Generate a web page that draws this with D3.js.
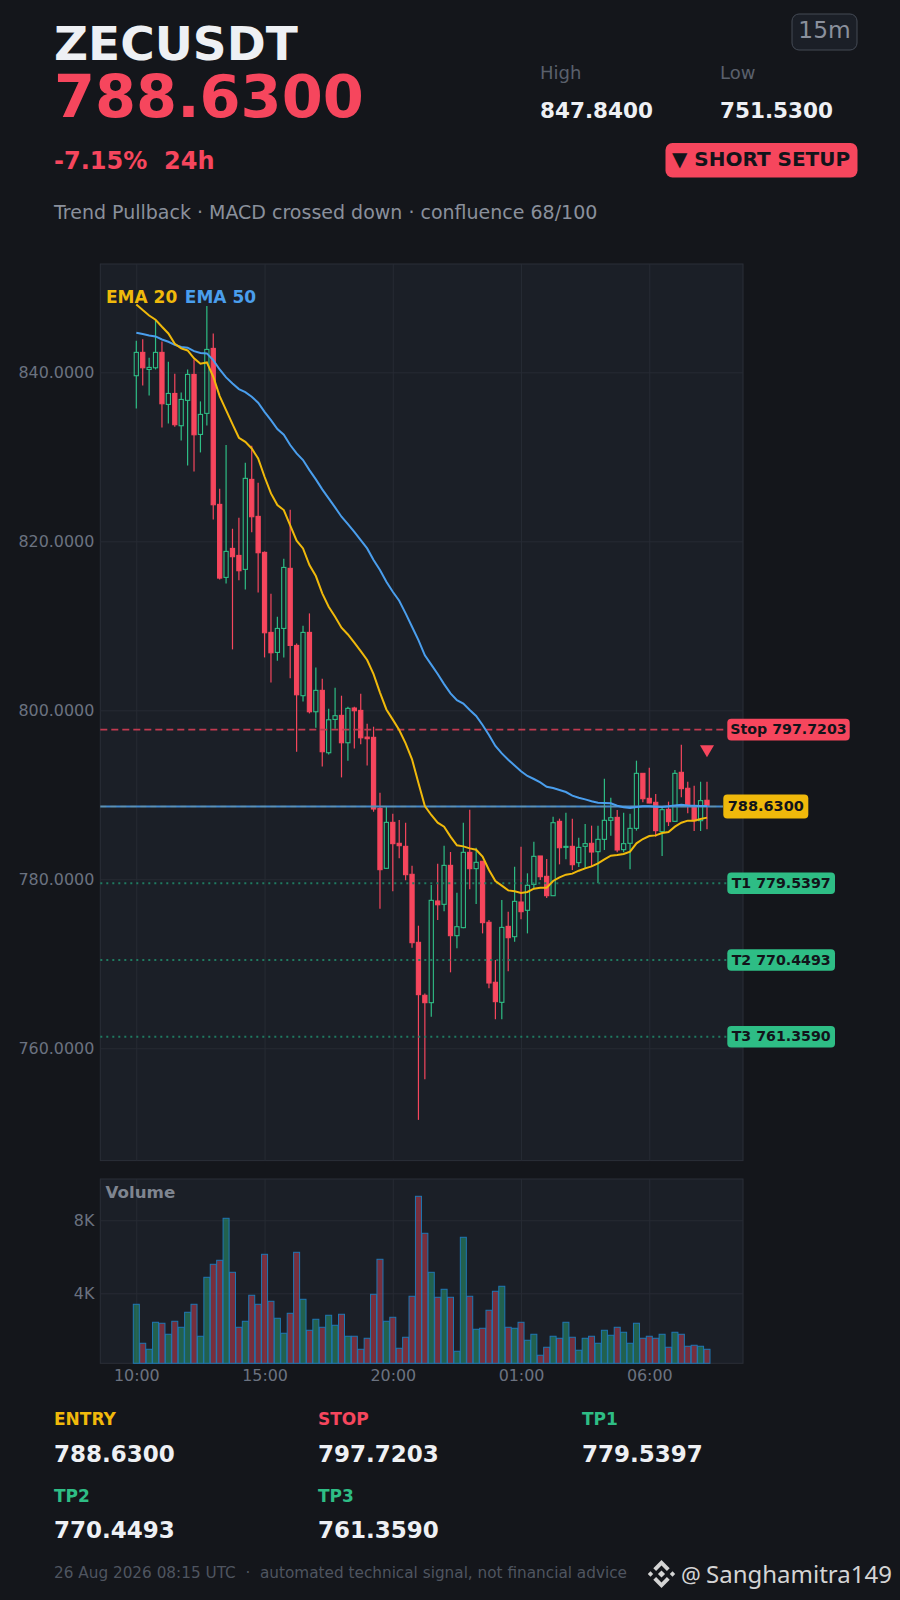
<!DOCTYPE html>
<html>
<head>
<meta charset="utf-8">
<title>ZECUSDT</title>
<script src="https://cdn.jsdelivr.net/npm/d3@7"></script>
<style>
  html, body { margin: 0; padding: 0; background: #14161b; }
  svg { display: block; font-family: "DejaVu Sans", sans-serif; }
  text { white-space: pre; }
  .axis text { fill: #6b7280; font-size: 15.9px; font-family: "DejaVu Sans", sans-serif; }
  .axis path, .axis line { display: none; }
  .grid path { display: none; }
  .grid line { stroke: #272b34; stroke-width: 1; }
</style>
</head>
<body>
<svg id="chart" width="900" height="1600"></svg>
<script>
// 15m candles, 10:00 onward
const open = [
  839.60, 842.36, 840.34, 840.54, 842.36, 836.20, 837.50, 833.68, 836.68, 839.75,
  832.65, 835.14, 842.83, 824.37, 815.73, 819.16, 818.33, 816.68, 827.33, 822.95,
  818.69, 809.22, 806.85, 809.69, 816.80, 807.68, 801.73, 809.22, 799.83, 802.36,
  794.98, 798.92, 799.40, 796.16, 800.27, 799.99, 796.83, 796.80, 788.40, 781.30,
  786.74, 784.26, 783.90, 780.59, 772.54, 766.27, 765.40, 777.43, 777.04, 781.65,
  773.33, 774.28, 783.19, 781.26, 782.13, 774.91, 767.81, 765.44, 774.43, 773.21,
  777.31, 776.33, 779.40, 782.76, 780.35, 778.06, 786.86, 783.78, 783.90, 781.97,
  783.90, 784.26, 783.27, 784.73, 786.98, 787.33, 783.51, 784.26, 786.03, 792.54,
  789.58, 789.11, 785.64, 788.28, 786.86, 792.66, 790.77, 788.68, 786.94, 789.35
];
const close = [
  842.36, 840.54, 840.58, 842.36, 836.28, 837.50, 833.80, 836.79, 839.75, 832.61,
  835.02, 842.71, 824.33, 815.65, 818.81, 818.18, 816.52, 827.45, 822.91, 818.65,
  809.18, 806.81, 809.69, 816.91, 807.68, 801.84, 809.22, 799.83, 802.36, 795.10,
  798.88, 799.36, 796.16, 800.23, 799.95, 796.75, 796.64, 788.32, 781.14, 786.74,
  784.22, 783.98, 780.55, 772.50, 766.35, 765.40, 777.51, 776.99, 781.65, 773.33,
  774.39, 783.19, 781.26, 782.01, 774.87, 767.73, 765.52, 774.31, 773.09, 777.39,
  776.17, 779.29, 782.72, 780.31, 778.06, 786.70, 783.74, 783.90, 781.73, 783.78,
  784.22, 783.23, 784.73, 786.98, 787.29, 783.47, 784.22, 786.03, 792.54, 789.54,
  789.03, 785.76, 788.24, 786.82, 792.54, 790.73, 788.68, 786.94, 789.31, 788.63
];
const high = [
  843.74, 843.90, 841.73, 846.26, 843.66, 841.25, 839.83, 837.62, 840.34, 841.53,
  836.56, 847.84, 844.60, 826.22, 831.40, 821.49, 822.79, 829.30, 831.30, 826.93,
  818.81, 813.80, 811.08, 817.94, 823.74, 807.92, 810.01, 811.47, 805.08, 803.74,
  800.19, 802.67, 801.73, 800.42, 800.42, 801.96, 798.41, 798.06, 790.25, 788.60,
  787.77, 787.02, 786.70, 781.61, 774.51, 766.50, 779.33, 781.85, 783.98, 783.23,
  778.42, 786.70, 788.24, 783.74, 782.17, 775.18, 770.45, 777.55, 776.17, 781.49,
  783.86, 780.71, 784.45, 782.76, 782.40, 787.41, 787.18, 787.89, 787.18, 784.93,
  786.54, 786.35, 786.35, 791.91, 789.66, 788.20, 787.89, 787.77, 794.04, 792.54,
  793.21, 790.10, 788.60, 789.19, 792.94, 795.93, 791.55, 791.08, 791.55, 791.55
];
const low = [
  835.73, 838.45, 837.27, 840.34, 833.48, 833.95, 833.56, 831.94, 828.98, 828.27,
  830.52, 833.72, 822.59, 815.49, 815.02, 807.21, 815.38, 814.31, 821.06, 813.95,
  806.26, 803.30, 805.87, 806.26, 803.78, 795.10, 801.05, 799.63, 797.94, 793.36,
  794.78, 797.82, 792.06, 794.03, 795.49, 795.97, 793.48, 788.00, 776.52, 781.26,
  778.58, 782.48, 779.88, 771.91, 751.53, 756.33, 763.74, 775.18, 776.21, 768.99,
  771.83, 774.20, 778.81, 777.08, 773.60, 767.10, 763.43, 763.43, 769.11, 772.62,
  775.26, 773.60, 778.93, 779.92, 777.80, 778.06, 781.77, 782.36, 781.10, 781.46,
  781.30, 781.50, 779.52, 783.47, 785.16, 783.19, 783.19, 781.18, 785.76, 789.11,
  788.99, 785.04, 782.76, 786.31, 786.82, 789.70, 787.81, 785.72, 785.72, 785.92
];
const volume = [
  3398, 1262, 933, 2412, 2358, 1755, 2467, 2138, 2960, 3398,
  1646, 4877, 5590, 5809, 8110, 5151, 2138, 2467, 3892, 3398,
  6137, 3563, 2632, 1810, 2905, 6247, 3672, 1974, 2577, 2138,
  2796, 2248, 2851, 1646, 1646, 933, 1536, 3946, 5864, 2467,
  2686, 988, 1591, 3837, 9315, 7288, 5151, 3782, 4220, 3782,
  824, 7069, 3837, 2029, 2084, 3070, 4111, 4385, 2138, 2084,
  2412, 1426, 1755, 605, 1043, 1646, 1536, 2412, 1591, 879,
  1536, 1646, 1262, 1974, 1700, 2138, 1865, 1262, 2358, 1536,
  1646, 1536, 1755, 1043, 1865, 1755, 1098, 1152, 1098, 933
];
const ema20 = [
  848.04, 847.37, 846.73, 846.22, 845.39, 844.60, 843.38, 842.83, 842.59, 841.65,
  841.01, 841.17, 839.48, 837.19, 835.53, 833.87, 832.26, 831.78, 830.99, 829.81,
  827.64, 825.67, 824.29, 823.70, 821.90, 820.07, 819.16, 817.19, 815.89, 813.84,
  812.26, 811.08, 809.77, 808.98, 808.00, 807.01, 805.95, 804.29, 802.10, 800.10,
  798.90, 797.66, 796.09, 794.20, 791.40, 788.67, 787.61, 786.70, 786.23, 785.05,
  784.02, 783.90, 783.66, 783.50, 782.68, 781.10, 779.80, 779.25, 778.69, 778.58,
  778.38, 778.50, 778.89, 779.01, 779.01, 779.80, 780.23, 780.55, 780.67, 781.02,
  781.30, 781.53, 781.89, 782.36, 782.80, 782.88, 783.00, 783.27, 784.26, 784.77,
  785.12, 785.20, 785.48, 785.60, 786.23, 786.70, 786.94, 786.94, 787.14, 787.30
];
const ema50 = [
  844.68, 844.53, 844.37, 844.25, 843.89, 843.62, 843.26, 842.99, 842.91, 842.51,
  842.28, 842.24, 841.45, 840.34, 839.40, 838.69, 838.02, 837.66, 837.11, 836.40,
  835.33, 834.35, 833.28, 832.61, 831.40, 830.41, 829.62, 828.43, 827.33, 826.15,
  825.08, 824.01, 822.91, 822.04, 821.13, 820.15, 819.16, 817.78, 816.60, 815.22,
  814.03, 812.97, 811.47, 809.89, 808.31, 806.50, 805.40, 804.30, 803.10, 802.00,
  801.20, 800.79, 800.04, 799.33, 798.26, 797.08, 795.78, 794.90, 794.15, 793.47,
  792.78, 792.23, 791.87, 791.48, 790.96, 790.80, 790.57, 790.33, 789.90, 789.66,
  789.46, 789.23, 789.07, 789.03, 788.99, 788.71, 788.52, 788.44, 788.56, 788.64,
  788.64, 788.60, 788.56, 788.64, 788.75, 788.83, 788.75, 788.71, 788.68, 788.68
];

const priceTicks = [840, 820, 800, 780, 760];
const volumeTicks = [4000, 8000];
const timeTickIndex = [0, 20, 40, 60, 80];
const timeTickLabels = ["10:00", "15:00", "20:00", "01:00", "06:00"];

const entryPrice = 788.63;
const stopPrice = 797.7203;
const signalPrice = 795.4;
const targetNames = ["T1", "T2", "T3"];
const targetPrices = [779.5397, 770.4493, 761.3590];

const statLabels = ["ENTRY", "STOP", "TP1", "TP2", "TP3"];
const statValues = ["788.6300", "797.7203", "779.5397", "770.4493", "761.3590"];

// colours
const BG = "#14161b", PANEL = "#1b1f27", BORDER = "#2b2f38";
const UP = "#2ebd85", DOWN = "#f6465d", YELLOW = "#f0b90b", BLUE = "#4a9eed";
const INK = "#12141a", WHITE = "#eef0f4", MUTED = "#8a909c", DIM = "#5a606c";

const svg = d3.select("#chart");

function txt(x, y, s, size, fill, weight, anchor) {
  return svg.append("text").attr("x", x).attr("y", y).text(s)
    .attr("font-size", size).attr("fill", fill)
    .attr("font-weight", weight || "normal")
    .attr("text-anchor", anchor || "start");
}

// header
txt(54, 60, "ZECUSDT", 47, WHITE, "bold");
txt(54, 117, "788.6300", 59, DOWN, "bold");
txt(54, 169, "-7.15%", 24, DOWN, "bold");
txt(164, 169, "24h", 24, DOWN, "bold");
txt(54, 219, "Trend Pullback · MACD crossed down · confluence 68/100", 19, MUTED);

svg.append("rect").attr("x", 792).attr("y", 14).attr("width", 65).attr("height", 36).attr("rx", 7)
  .attr("fill", PANEL).attr("stroke", "#444a55");
txt(824.5, 38, "15m", 23.3, MUTED, "normal", "middle");
txt(540, 79, "High", 18, DIM);
txt(720, 79, "Low", 18, DIM);
txt(540, 118, "847.8400", 21.5, WHITE, "bold");
txt(720, 118, "751.5300", 21.5, WHITE, "bold");
svg.append("rect").attr("x", 665.5).attr("y", 143).attr("width", 192).attr("height", 34.5).attr("rx", 7).attr("fill", DOWN);
txt(761, 165.7, "▼ SHORT SETUP", 20, INK, "bold", "middle");

// scales
const left = 100.3, right = 743;
const priceTop = 264, priceBottom = 1160.6;
const volTop = 1179, volBottom = 1363.3;

const x = d3.scaleLinear().domain([-5.616, 94.616]).range([left, right]);
const y = d3.scaleLinear().domain([852.82, 746.71]).range([priceTop, priceBottom]);
const yVol = d3.scaleLinear().domain([10263, 164]).range([volTop, volBottom]);

// panels + grid
[[priceTop, priceBottom], [volTop, volBottom]].forEach(([t, b]) => {
  svg.append("rect").attr("x", left).attr("y", t).attr("width", right - left).attr("height", b - t)
    .attr("fill", PANEL).attr("stroke", BORDER);
  svg.append("g").attr("class", "grid").attr("transform", `translate(0,${b})`)
    .call(d3.axisBottom(x).tickValues(timeTickIndex).tickSize(-(b - t)).tickFormat(""));
});
svg.append("g").attr("class", "grid").attr("transform", `translate(${left},0)`)
  .call(d3.axisLeft(y).tickValues(priceTicks).tickSize(-(right - left)).tickFormat(""));
svg.append("g").attr("class", "grid").attr("transform", `translate(${left},0)`)
  .call(d3.axisLeft(yVol).tickValues(volumeTicks).tickSize(-(right - left)).tickFormat(""));

svg.append("g").attr("class", "axis").attr("transform", `translate(${left - 3},0)`)
  .call(d3.axisLeft(y).tickValues(priceTicks).tickSize(0).tickFormat(d3.format(".4f")));
svg.append("g").attr("class", "axis").attr("transform", `translate(${left - 3},0)`)
  .call(d3.axisLeft(yVol).tickValues(volumeTicks).tickSize(0).tickFormat(d => d / 1000 + "K"));
svg.append("g").attr("class", "axis").attr("transform", `translate(0,${volBottom + 3})`)
  .call(d3.axisBottom(x).tickValues(timeTickIndex).tickSize(0).tickFormat((d, i) => timeTickLabels[i]));

// candles
const candles = svg.append("g").selectAll("g").data(d3.range(open.length)).join("g")
  .attr("stroke", i => close[i] >= open[i] ? UP : DOWN);
candles.append("line")
  .attr("x1", i => x(i)).attr("x2", i => x(i))
  .attr("y1", i => y(high[i])).attr("y2", i => y(Math.max(open[i], close[i])))
  .attr("stroke-width", 1.2);
candles.append("line")
  .attr("x1", i => x(i)).attr("x2", i => x(i))
  .attr("y1", i => y(Math.min(open[i], close[i]))).attr("y2", i => y(low[i]))
  .attr("stroke-width", 1.2);
candles.append("rect")
  .attr("x", i => x(i) - 2.1).attr("width", 4.2)
  .attr("y", i => y(Math.max(open[i], close[i])))
  .attr("height", i => Math.abs(y(open[i]) - y(close[i])))
  .attr("fill", i => close[i] >= open[i] ? "none" : DOWN)
  .attr("stroke-width", 1.1);

// volume
svg.append("g").selectAll("rect").data(d3.range(volume.length)).join("rect")
  .attr("x", i => x(i) - 3).attr("width", 6)
  .attr("y", i => yVol(volume[i])).attr("height", i => volBottom - yVol(volume[i]))
  .attr("fill", i => close[i] >= open[i] ? "rgba(46,189,133,0.42)" : "rgba(246,70,93,0.42)")
  .attr("stroke", "#1f77b4").attr("stroke-width", 1);

// level lines
const level = (p, colour, dash, width, endX) => svg.append("line")
  .attr("x1", left).attr("x2", endX).attr("y1", y(p)).attr("y2", y(p))
  .attr("stroke", colour).attr("stroke-dasharray", dash).attr("stroke-width", width);
level(stopPrice, "#c03a50", "7,4", 1.6, 727);
targetPrices.forEach(p => level(p, "#1f7a60", "2,4", 2, 727));
level(entryPrice, "#4389cf", null, 2, 723);
level(entryPrice, "rgba(240,185,11,0.15)", "6,4", 2, 723);

// EMAs
const emaLine = d3.line().x((d, i) => x(i)).y(d => y(d));
svg.append("path").datum(ema50).attr("d", emaLine).attr("fill", "none").attr("stroke", BLUE).attr("stroke-width", 2);
svg.append("path").datum(ema20).attr("d", emaLine).attr("fill", "none").attr("stroke", YELLOW).attr("stroke-width", 2);
txt(106, 303.3, "EMA 20", 17, YELLOW, "bold");
txt(184.8, 303.3, "EMA 50", 17, BLUE, "bold");
txt(105.5, 1197.7, "Volume", 16.7, "#7f8590", "bold");

// signal marker above the last candle
svg.append("path")
  .attr("d", d3.symbol(d3.symbolTriangle, 85))
  .attr("transform", `translate(${x(89)},${y(signalPrice)}) rotate(180)`)
  .attr("fill", DOWN);

// price tags
function tag(p, s, fill, rectX, w, h, size) {
  const cy = y(p);
  svg.append("rect").attr("x", rectX).attr("y", cy - h / 2).attr("width", w).attr("height", h).attr("rx", 4).attr("fill", fill);
  txt(rectX + w / 2, cy + size * 0.36 - 0.6, s, size, INK, "bold", "middle");
}
tag(stopPrice, "Stop " + stopPrice.toFixed(4), DOWN, 727.3, 122.4, 21.6, 14.2);
targetPrices.forEach((p, i) => tag(p, targetNames[i] + " " + p.toFixed(4), UP, 727.3, 107.7, 21.6, 14.2));
tag(entryPrice, entryPrice.toFixed(4), YELLOW, 723.3, 85, 24, 14.5);

// stats
const statX = [54, 318, 582];
const statColours = [YELLOW, DOWN, UP, UP, UP];
statLabels.forEach((s, i) => {
  const col = i % 3, row = Math.floor(i / 3);
  txt(statX[col], 1425 + row * 77, s, 17, statColours[i], "bold");
  txt(statX[col], 1461.7 + row * 76.6, statValues[i], 23, WHITE, "bold");
});

// footer
txt(54, 1578, "26 Aug 2026 08:15 UTC  ·  automated technical signal, not financial advice", 15.27, "#4f5560");

const logo = svg.append("g").attr("transform", "translate(661.5,1574)").attr("fill", "#d4d4d4");
logo.append("path").attr("d", "M0,-14L8.2,-5.8L5.4,-3L0,-8.5L-5.4,-3L-8.2,-5.8Z");
logo.append("path").attr("d", "M0,14L8.2,5.8L5.4,3L0,8.5L-5.4,3L-8.2,5.8Z");
logo.append("path").attr("d", "M0,-3.6L3.6,0L0,3.6L-3.6,0Z");
logo.append("path").attr("d", "M-11,-2.7L-8.3,0L-11,2.7L-13.7,0Z");
logo.append("path").attr("d", "M11,-2.7L13.7,0L11,2.7L8.3,0Z");
svg.append("text").attr("x", 681).attr("y", 1582.5).text("@").attr("font-size", 22).attr("fill", "#d4d4d4").attr("font-family", "Noto Sans");
svg.append("text").attr("x", 706).attr("y", 1582.7).text("Sanghamitra149").attr("font-size", 24).attr("fill", "#d4d4d4").attr("font-family", "Noto Sans");
</script>
</body>
</html>
